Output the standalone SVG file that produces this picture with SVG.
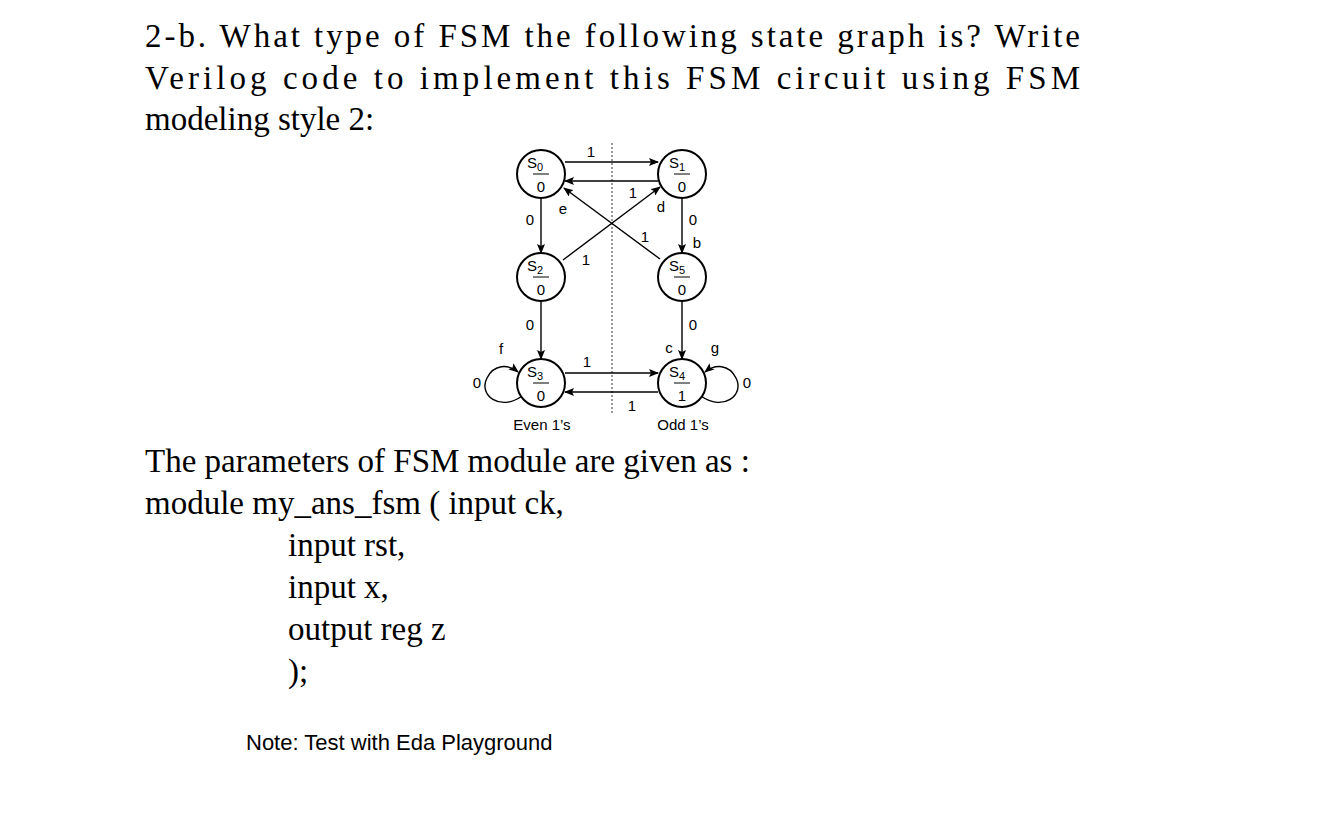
<svg xmlns="http://www.w3.org/2000/svg" width="1334" height="822" viewBox="0 0 1334 822">
<style>
.t{font-family:"Liberation Serif",serif;font-size:33px;fill:#000}
.s{font-family:"Liberation Sans",sans-serif;font-size:15px;fill:#000}
.st{fill:#fff;stroke:#000;stroke-width:2}
.e{fill:none;stroke:#000;stroke-width:1.4}
</style>
<defs><marker id="a" markerWidth="10" markerHeight="8" refX="9" refY="4" orient="auto" markerUnits="userSpaceOnUse"><path d="M0,0 L10,4 L0,8 L2,4Z" fill="#000"/></marker></defs>
<rect width="1334" height="822" fill="#fff"/>
<text class="t" x="145" y="47" textLength="935" lengthAdjust="spacing">2-b. What type of FSM the following state graph is? Write</text>
<text class="t" x="145" y="89" textLength="935" lengthAdjust="spacing">Verilog code to implement this FSM circuit using FSM</text>
<text class="t" x="145" y="130">modeling style 2:</text>
<line x1="612" y1="143" x2="612" y2="415" stroke="#555" stroke-width="1.2" stroke-dasharray="2,2"/>
<g id="edges" class="e">
<line x1="565" y1="162" x2="658" y2="162" marker-end="url(#a)"/>
<line x1="658" y1="181" x2="565" y2="181" marker-end="url(#a)"/>
<line x1="541" y1="198" x2="541" y2="253" marker-end="url(#a)"/>
<line x1="682" y1="198" x2="682" y2="253" marker-end="url(#a)"/>
<line x1="541" y1="301" x2="541" y2="359" marker-end="url(#a)"/>
<line x1="682" y1="301" x2="682" y2="359" marker-end="url(#a)"/>
<line x1="563" y1="260" x2="660" y2="187" marker-end="url(#a)"/>
<line x1="660" y1="259" x2="564" y2="188" marker-end="url(#a)"/>
<line x1="565" y1="373" x2="658" y2="373" marker-end="url(#a)"/>
<line x1="658" y1="392" x2="565" y2="392" marker-end="url(#a)"/>
<path d="M522,396 C500,412 478,395 487,378 C494,364 508,364 518,372" marker-end="url(#a)"/>
<path d="M701,396 C723,412 745,395 736,378 C729,364 715,364 705,372" marker-end="url(#a)"/>
</g>
<g id="S0"><circle class="st" cx="541" cy="174" r="24"/><text class="s" x="535" y="168" text-anchor="middle">S<tspan font-size="11" dy="3">0</tspan></text><line x1="533" y1="174" x2="549" y2="174" stroke="#000"/><text class="s" x="541" y="192" text-anchor="middle">0</text></g>
<g id="S1"><circle class="st" cx="682" cy="174" r="24"/><text class="s" x="677" y="168" text-anchor="middle">S<tspan font-size="11" dy="3">1</tspan></text><line x1="674" y1="174" x2="690" y2="174" stroke="#000"/><text class="s" x="682" y="192" text-anchor="middle">0</text></g>
<g id="S2"><circle class="st" cx="541" cy="277" r="24"/><text class="s" x="535" y="271" text-anchor="middle">S<tspan font-size="11" dy="3">2</tspan></text><line x1="533" y1="277" x2="549" y2="277" stroke="#000"/><text class="s" x="541" y="295" text-anchor="middle">0</text></g>
<g id="S5"><circle class="st" cx="682" cy="277" r="24"/><text class="s" x="677" y="271" text-anchor="middle">S<tspan font-size="11" dy="3">5</tspan></text><line x1="674" y1="277" x2="690" y2="277" stroke="#000"/><text class="s" x="682" y="295" text-anchor="middle">0</text></g>
<g id="S3"><circle class="st" cx="541" cy="383" r="24"/><text class="s" x="535" y="377" text-anchor="middle">S<tspan font-size="11" dy="3">3</tspan></text><line x1="533" y1="383" x2="549" y2="383" stroke="#000"/><text class="s" x="541" y="401" text-anchor="middle">0</text></g>
<g id="S4"><circle class="st" cx="682" cy="383" r="24"/><text class="s" x="677" y="377" text-anchor="middle">S<tspan font-size="11" dy="3">4</tspan></text><line x1="674" y1="383" x2="690" y2="383" stroke="#000"/><text class="s" x="682" y="401" text-anchor="middle">1</text></g>
<g id="labels" class="s" text-anchor="middle">
<text x="591" y="157">1</text><text x="633" y="198">1</text><text x="661" y="212">d</text><text x="563" y="214">e</text>
<text x="530" y="225">0</text><text x="693" y="225">0</text><text x="697" y="248">b</text><text x="645" y="242">1</text><text x="586" y="265">1</text>
<text x="530" y="330">0</text><text x="693" y="330">0</text><text x="501" y="354">f</text><text x="669" y="353">c</text><text x="715" y="353">g</text>
<text x="587" y="367">1</text><text x="632" y="411">1</text><text x="477" y="388">0</text><text x="747" y="388">0</text>
<text x="542" y="430">Even 1’s</text><text x="683" y="430">Odd 1’s</text>
</g>
<text class="t" x="145" y="472">The parameters of FSM module are given as :</text>
<text class="t" x="145" y="514">module my_ans_fsm ( input ck,</text>
<text class="t" x="288" y="556">input rst,</text>
<text class="t" x="288" y="598">input x,</text>
<text class="t" x="288" y="640">output reg z</text>
<text class="t" x="288" y="682">);</text>
<text x="246" y="750" font-family="Liberation Sans,sans-serif" font-size="22">Note: Test with Eda Playground</text>
</svg>
